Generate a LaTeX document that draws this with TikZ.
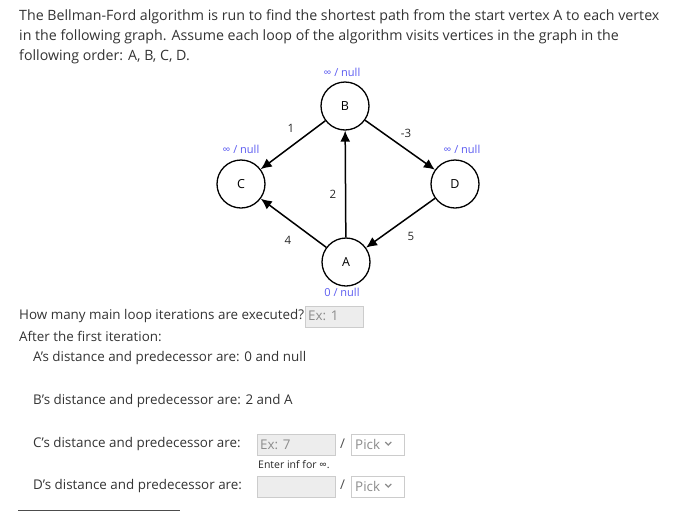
\documentclass[tikz,border=0pt]{standalone}
\usepackage{fontspec}
\setmainfont{Open Sans}
\usetikzlibrary{arrows.meta}
\begin{document}
\begin{tikzpicture}[x=1pt,y=-1pt,
  vtx/.style={circle,draw,line width=1.3pt,minimum size=48pt,inner sep=0pt,font=\fontsize{12.5}{14}\selectfont},
  arr/.style={-{Latex[length=11pt,width=10pt]},line width=1.5pt},
  wt/.style={font=\fontsize{11.5}{13}\selectfont,text=black!85},
  lab/.style={font=\fontsize{11}{13}\selectfont,text={rgb,255:red,90;green,90;blue,240}},
  txt/.style={anchor=west,inner sep=0pt,font=\fontsize{14.2}{16}\selectfont,text=black!80},
  ftxt/.style={anchor=west,inner sep=0pt,font=\fontsize{13.4}{16}\selectfont,text=black!80},
  inbox/.style={draw=black!20,fill=black!7,line width=0.8pt,anchor=north west,inner sep=0pt},
  ph/.style={anchor=west,inner sep=0pt,font=\fontsize{13.4}{16}\selectfont,text=black!45},
  chev/.style={draw=black!45,line width=1.2pt}]
\useasboundingbox (0,0) rectangle (694,512);
\node[txt] (t1) at (19,17) {The Bellman-Ford algorithm is run to find the shortest path from the start vertex A to each vertex};
\node[txt] (t2) at (19,37) {in the following graph. Assume each loop of the algorithm visits vertices in the graph in the};
\node[txt] (t3) at (19,57) {following order: A, B, C, D.};
\node[vtx] (B) at (345,106) {B};
\node[vtx] (C) at (241,184) {C};
\node[vtx] (D) at (455,184) {D};
\node[vtx] (A) at (346,262) {A};
\node[lab] (lb) at (342,72) {∞ / null};
\node[lab] (lc) at (241,149) {∞ / null};
\node[lab] (ld) at (462,149) {∞ / null};
\node[lab] (la) at (342,292) {0 / null};
\draw[arr] (B) -- (C);
\draw[arr] (B) -- (D);
\draw[arr] (A) -- (B);
\draw[arr] (A) -- (C);
\draw[arr] (D) -- (A);
\node[wt] (w1) at (291,128) {1};
\node[wt] (w2) at (406,133) {-3};
\node[wt] (w3) at (333,194) {2};
\node[wt] (w4) at (288,240) {4};
\node[wt] (w5) at (411,236) {5};
\node[ftxt] (q1) at (19,316) {How many main loop iterations are executed?};
\node[inbox,minimum width=58pt,minimum height=21pt] (b1) at (305,306) {};
\node[ph] (p1) at (308,316) {Ex: 1};
\node[ftxt] (q2) at (19,336) {After the first iteration:};
\node[ftxt] (qa) at (33,358) {A's distance and predecessor are: 0 and null};
\node[ftxt] (qb) at (33,401) {B's distance and predecessor are: 2 and A};
\node[ftxt] (qc) at (33,444) {C's distance and predecessor are:};
\node[inbox,minimum width=78pt,minimum height=21pt] (bc) at (257,434) {};
\node[ph] (pc) at (260,445) {Ex: 7};
\node[ph,text=black!70] (sc) at (340,444) {/};
\node[inbox,fill=white,minimum width=53pt,minimum height=21pt] (kc) at (351,434) {};
\node[ph] (pkc) at (355,444) {Pick};
\draw[chev] ([xshift=5pt]pkc.east) ++(0,-2) -- ++(3,3) -- ++(3,-3);
\node[anchor=west,inner sep=0pt,font=\fontsize{10.5}{12}\selectfont,text=black!85] (hint) at (258,465) {Enter inf for ∞.};
\node[ftxt] (qd) at (33,486) {D's distance and predecessor are:};
\node[inbox,minimum width=78pt,minimum height=21pt] (bd) at (257,476) {};
\node[ph,text=black!70] (sd) at (340,485) {/};
\node[inbox,fill=white,minimum width=53pt,minimum height=21pt] (kd) at (351,476) {};
\node[ph] (pkd) at (355,486) {Pick};
\draw[chev] ([xshift=5pt]pkd.east) ++(0,-2) -- ++(3,3) -- ++(3,-3);
\draw[black!70,line width=1pt] (18,510) -- (180,510);
\end{tikzpicture}
\end{document}
